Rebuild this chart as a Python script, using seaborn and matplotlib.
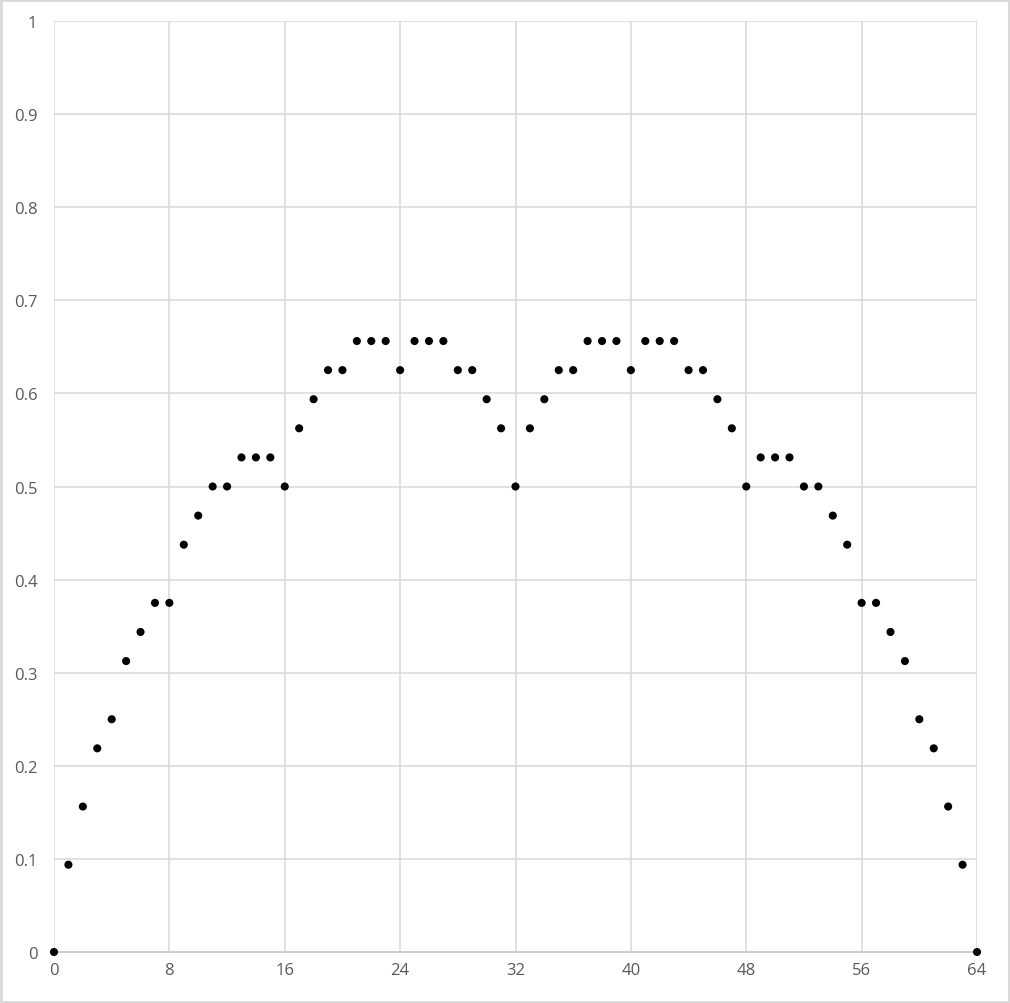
import matplotlib
matplotlib.use("Agg")
import matplotlib.pyplot as plt
import seaborn as sns
import pandas as pd
from matplotlib.patches import Rectangle

# Data (values sit on multiples of 1/32)
x_vals = list(range(65))
y_vals = [
    0.0, 0.09375, 0.15625, 0.21875, 0.25, 0.3125, 0.34375, 0.375, 0.375,
    0.4375, 0.46875, 0.5, 0.5, 0.53125, 0.53125, 0.53125, 0.5,
    0.5625, 0.59375, 0.625, 0.625, 0.65625, 0.65625, 0.65625, 0.625,
    0.65625, 0.65625, 0.65625, 0.625, 0.625, 0.59375, 0.5625, 0.5,
    0.5625, 0.59375, 0.625, 0.625, 0.65625, 0.65625, 0.65625, 0.625,
    0.65625, 0.65625, 0.65625, 0.625, 0.625, 0.59375, 0.5625, 0.5,
    0.53125, 0.53125, 0.53125, 0.5, 0.5, 0.46875, 0.4375, 0.375,
    0.375, 0.34375, 0.3125, 0.25, 0.21875, 0.15625, 0.09375, 0.0,
]
x_ticks = [0, 8, 16, 24, 32, 40, 48, 56, 64]
y_ticks = [0, 0.1, 0.2, 0.3, 0.4, 0.5, 0.6, 0.7, 0.8, 0.9, 1]
y_tick_labels = ["0", "0.1", "0.2", "0.3", "0.4", "0.5", "0.6", "0.7", "0.8", "0.9", "1"]

df = pd.DataFrame({"x": x_vals, "y": y_vals})

sns.set_style("white")
plt.rcParams['font.family'] = ['Open Sans', 'DejaVu Sans']

fig = plt.figure(figsize=(10.1, 10.04), dpi=100)
ax = fig.add_axes([54 / 1010, 51 / 1004, 923 / 1010, 931 / 1004])

ax.set_xlim(0, 64)
ax.set_ylim(0, 1)
ax.set_xticks(x_ticks)
ax.set_yticks(y_ticks)
ax.set_yticklabels(y_tick_labels)
ax.grid(True, color="#d9d9d9", linewidth=1.1)
ax.set_axisbelow(True)
for s in ["top", "right", "left"]:
    ax.spines[s].set_visible(False)
ax.spines["bottom"].set_color("#cccccc")
ax.spines["bottom"].set_linewidth(1.4)
ax.tick_params(axis="both", length=0, labelsize=12, colors="#595959")
ax.tick_params(axis="y", pad=12)
ax.tick_params(axis="x", pad=7)

sns.scatterplot(data=df, x="x", y="y", ax=ax, color="black", s=34,
                edgecolor="none", clip_on=False, zorder=3)
ax.set_xlabel("")
ax.set_ylabel("")

# light outer frame like the source image
fig.patches.append(Rectangle((0.001, 0.001), 0.998, 0.998, transform=fig.transFigure,
                             fill=False, edgecolor="#d9d9d9", linewidth=2))

fig.savefig("out.png", dpi=100)
